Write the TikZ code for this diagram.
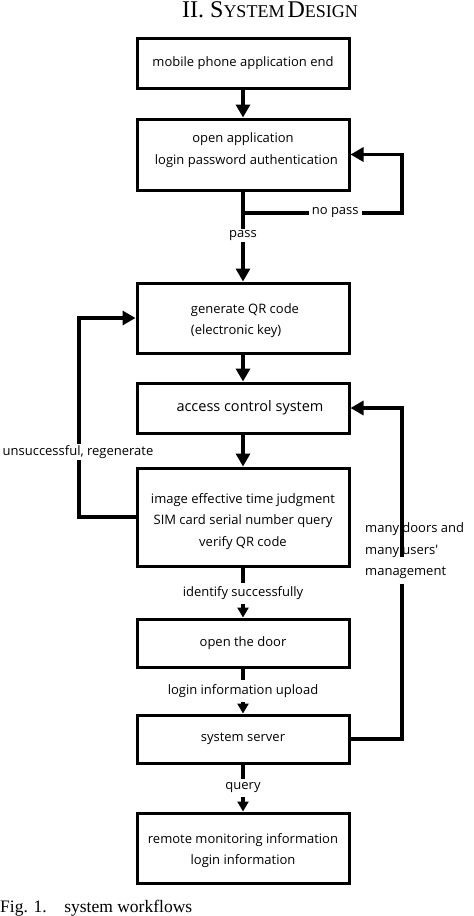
\documentclass[tikz,border=0pt]{standalone}
\usepackage{fontspec}
\setmainfont{Liberation Serif}
\newfontfamily\boxfont{Open Sans}
\usetikzlibrary{arrows.meta}
\newcommand{\bxt}[3][c]{\raisebox{#3}[0pt][0pt]{\def\arraystretch{1}\begin{tabular}{@{}#1@{}}#2\end{tabular}}}
\tikzset{
  box/.style={draw, line width=3pt, minimum width=212pt, inner sep=0pt, font=\boxfont\fontsize{13}{21.5}\selectfont, align=center},
  conn/.style={line width=3.2pt},
  bigarrow/.style={conn, -{Triangle[width=14pt,length=13pt]}},
  smallarrow/.style={conn, -{Triangle[width=11pt,length=10pt]}},
  lbl/.style={fill=white, inner sep=1.5pt, font=\boxfont\fontsize{13}{21.5}\selectfont},
}
\begin{document}
\begin{tikzpicture}[x=1pt,y=-1pt]
\useasboundingbox (0,0) rectangle (474,916);
% title and caption
\node[anchor=base] (title) at (270,17) {\fontsize{24}{24}\selectfont II.\ S\fontsize{18}{18}\selectfont YSTEM\,\fontsize{24}{24}\selectfont D\fontsize{18}{18}\selectfont ESIGN};
\node[anchor=base west, inner sep=0pt] (cap) at (0,912) {\fontsize{17.5}{18}\selectfont Fig. 1.\quad system workflows};
% boxes
\node[box, minimum height=50pt] (b1) at (243,63) {mobile phone application end};
\node[box, minimum height=71pt] (b2) at (243,154.5) {\bxt{open application\\ \ \ login password authentication}{2.25pt}};
\node[box, minimum height=70pt] (b3) at (243,318) {\bxt[l]{\hspace*{4pt}generate QR code\\\hspace*{4pt}(electronic key)}{-4.75pt}};
\node[box, minimum height=50pt, font=\boxfont\fontsize{14.5}{16}\selectfont] (b4) at (243,408) {\hspace*{14pt}access control system};
\node[box, minimum height=98pt] (b5) at (243,517) {\bxt{image effective time judgment\\SIM card serial number query\\verify QR code}{-6.25pt}};
\node[box, minimum height=48pt] (b6) at (243,643) {\raisebox{3pt}{open the door}};
\node[box, minimum height=48pt] (b7) at (243,739) {\raisebox{3pt}{system server}};
\node[box, minimum height=70pt] (b8) at (243,848) {\bxt{remote monitoring information\\login information}{-4.75pt}};
% main flow
\draw[bigarrow] (b1) -- (b2);
\draw[bigarrow] (b2) -- node[lbl, pos=0.49] (lpass) {pass} (b3);
\draw[bigarrow] (b3) -- (b4);
\draw[bigarrow] (b4) -- (b5);
\draw[smallarrow] (b5) -- node[lbl, pos=0.52, inner sep=4pt] (lid) {identify successfully} (b6);
\draw[smallarrow] (b6) -- node[lbl, pos=0.5, inner sep=4pt] (lup) {login information upload} (b7);
\draw[smallarrow] (b7) -- node[lbl, pos=0.5, inner sep=4pt] (lq) {query} (b8);
% no pass loop
\coordinate (np1) at (243,213);
\coordinate (np2) at (402,213);
\draw[bigarrow] (np1) -- node[lbl, pos=0.58, inner sep=3pt] (lnp) {no pass} (np2) |- (b2.east);
% unsuccessful loop
\coordinate (L) at (79,0);
\draw[bigarrow] (b5.west) -- (b5.west -| L) -- (b3.west -| L) -- (b3.west);
\node[lbl] (lun) at (78,452) {unsuccessful, regenerate};
% many doors loop
\coordinate (R) at (402,0);
\coordinate (gapb) at (402,584);
\coordinate (gapt) at (402,557);
\draw[conn] (b7.east) -- (b7.east -| R) -- (gapb);
\draw[bigarrow] (gapt) -- (b4.east -| R) -- (b4.east);
\node[anchor=west, align=left, inner sep=0pt, font=\boxfont\fontsize{13}{21.5}\selectfont] (lmany) at (365,551) {many doors and\\many users'\\management};
\end{tikzpicture}
\end{document}
